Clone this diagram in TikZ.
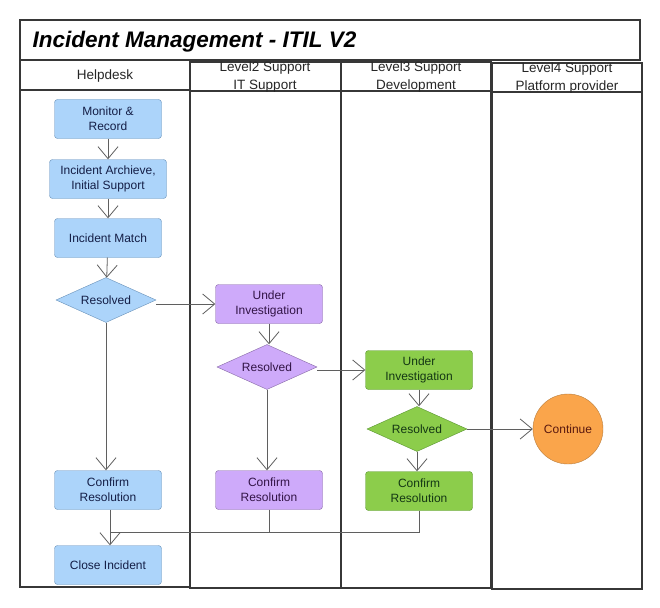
\documentclass[tikz,border=0pt]{standalone}
\usepackage{fontspec}
\setmainfont{Liberation Sans}
\usetikzlibrary{arrows.meta,shapes.geometric}

\definecolor{lanegray}{RGB}{55,55,55}
\definecolor{flowgray}{RGB}{95,95,95}
\definecolor{bluefill}{RGB}{172,212,250}
\definecolor{blueline}{RGB}{105,145,185}
\definecolor{bluetext}{RGB}{20,30,70}
\definecolor{purplefill}{RGB}{206,170,250}
\definecolor{purpleline}{RGB}{135,105,165}
\definecolor{purpletext}{RGB}{50,20,70}
\definecolor{greenfill}{RGB}{140,205,75}
\definecolor{greenline}{RGB}{90,150,50}
\definecolor{greentext}{RGB}{20,55,20}
\definecolor{orangefill}{RGB}{250,165,75}
\definecolor{orangeline}{RGB}{185,125,60}
\definecolor{orangetext}{RGB}{90,25,15}

\tikzset{
    lane/.style={draw=lanegray, line width=2pt},
    lanehead/.style={align=center, text=black!85, font=\fontsize{13.5}{18}\selectfont},
    box/.style={draw, rounded corners=3pt, minimum width=107pt, minimum height=39pt,
        align=center, inner sep=2pt, font=\fontsize{12}{15}\selectfont},
    decision/.style={diamond, draw, aspect=2.27, minimum width=100pt, minimum height=45pt,
        inner sep=0pt, font=\fontsize{12}{15}\selectfont},
    helpdesk/.style={fill=bluefill, draw=blueline, text=bluetext},
    itsupport/.style={fill=purplefill, draw=purpleline, text=purpletext},
    develop/.style={fill=greenfill, draw=greenline, text=greentext},
    flow/.style={draw=flowgray, line width=0.8pt, -{Straight Barb[length=12pt,width=20pt]}},
    wire/.style={draw=flowgray, line width=0.8pt},
}

\begin{document}
\begin{tikzpicture}[x=1pt, y=-1pt]
    \useasboundingbox[fill=white] (0,0) rectangle (660,607);
    % Title and swim lanes:
    \draw[lane] (20,20) rectangle (640,60);
    \node[anchor=base west, font=\fontsize{22.5}{26}\selectfont\bfseries\itshape] (title) at (29,48) {Incident Management - ITIL V2};
    \draw[lane] (20,60) rectangle (190,587);
    \draw[lane] (20,90) -- (190,90);
    \draw[lane] (190,62) rectangle (341,588);
    \draw[lane] (190,91) -- (341,91);
    \draw[lane] (341,62) rectangle (491,588);
    \draw[lane] (341,91) -- (491,91);
    \draw[lane, line width=2.6pt] (492,63) rectangle (642,589);
    \draw[lane] (492,92) -- (642,92);
    \node[lanehead] (hd1) at (105,76) {Helpdesk};
    \node[lanehead] (hd2) at (265,77) {Level2 Support\\IT Support};
    \node[lanehead] (hd3) at (416,77) {Level3 Support\\Development};
    \node[lanehead] (hd4) at (567,78) {Level4 Support\\Platform provider};
    % Helpdesk:
    \node[box, helpdesk] (mon) at (108,119) {Monitor \&\\Record};
    \node[box, helpdesk, minimum width=117pt] (arch) at (108,179) {Incident Archieve,\\Initial Support};
    \node[box, helpdesk] (match) at (108,238) {Incident Match};
    \node[decision, helpdesk] (res1) at (106,300) {Resolved};
    \node[box, helpdesk] (conf1) at (108,490) {Confirm\\Resolution};
    \node[box, helpdesk] (close) at (108,565) {Close Incident};
    % Level2:
    \node[box, itsupport] (inv2) at (269,304) {Under\\Investigation};
    \node[decision, itsupport] (res2) at (267,367) {Resolved};
    \node[box, itsupport] (conf2) at (269,490) {Confirm\\Resolution};
    % Level3:
    \node[box, develop] (inv3) at (419,370) {Under\\Investigation};
    \node[decision, develop] (res3) at (417,429) {Resolved};
    \node[box, develop] (conf3) at (419,491) {Confirm\\Resolution};
    % Level4:
    \node[circle, draw=orangeline, fill=orangefill, text=orangetext, minimum size=70pt,
        inner sep=0pt, font=\fontsize{12}{15}\selectfont] (cont) at (568,429) {Continue};
    % Connectors:
    \draw[flow] (mon) -- (arch);
    \draw[flow] (arch) -- (match);
    \draw[flow] (match) -- (res1);
    \draw[flow] (res1.east |- inv2.west) -- (inv2.west);
    \draw[flow] (res1) -- (res1 |- conf1.north);
    \draw[flow] (inv2) -- (inv2 |- res2.north);
    \draw[flow] (res2.east |- inv3.west) -- (inv3.west);
    \draw[flow] (res2) -- (res2 |- conf2.north);
    \draw[flow] (inv3) -- (inv3 |- res3.north);
    \draw[flow] (res3) -- (cont);
    \draw[flow] (res3) -- (res3 |- conf3.north);
    \coordinate (join) at (110,532);
    \draw[flow] (conf1.south -| join) -- (close.north -| join);
    \draw[wire] (conf2.south) |- (join);
    \draw[wire] (conf3.south) |- (join);
\end{tikzpicture}
\end{document}
